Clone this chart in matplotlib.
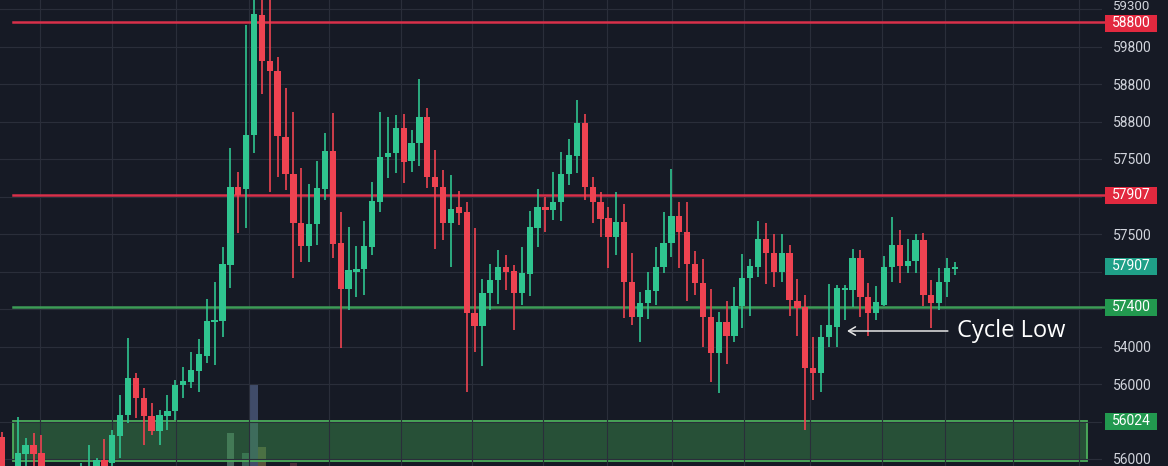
import numpy as np
import matplotlib.pyplot as plt
import matplotlib.transforms as mtransforms
from matplotlib.patches import Rectangle

plt.rcParams['font.family'] = ['Roboto', 'DejaVu Sans']

# OHLC candles, one per bar, oldest first
opens = [59126, 59044, 59050, 59092, 59110, 59094, 59044, 59020, 59000, 59020,
         59044, 59050, 59064, 59080, 59074, 59128, 59170, 59244, 59204, 59168,
         59138, 59168, 59178, 59230, 59236, 59258, 59288, 59356, 59358, 59470,
         59626, 59622, 59730, 59970, 59878, 59858, 59726, 59652, 59554, 59508,
         59552, 59622, 59698, 59514, 59422, 59456, 59462, 59506, 59596, 59686,
         59694, 59744, 59678, 59714, 59766, 59646, 59626, 59554, 59586, 59576,
         59374, 59348, 59414, 59440, 59466, 59458, 59414, 59452, 59544, 59586,
         59580, 59596, 59652, 59688, 59754, 59626, 59596, 59564, 59526, 59556,
         59436, 59366, 59394, 59418, 59466, 59514, 59568, 59536, 59472, 59434,
         59366, 59294, 59356, 59328, 59388, 59444, 59466, 59522, 59494, 59456,
         59494, 59398, 59386, 59264, 59254, 59326, 59346, 59420, 59420, 59484,
         59406, 59374, 59390, 59466, 59510, 59468, 59478, 59520, 59410, 59394,
         59436, 59462]
closes = [59050, 59060, 59094, 59110, 59092, 59050, 59020, 59000, 59020, 59044,
          59060, 59064, 59080, 59060, 59130, 59170, 59244, 59204, 59168, 59138,
          59170, 59178, 59230, 59238, 59260, 59292, 59358, 59360, 59472, 59626,
          59610, 59730, 59972, 59878, 59858, 59728, 59652, 59554, 59508, 59552,
          59624, 59698, 59512, 59422, 59460, 59462, 59508, 59598, 59686, 59694,
          59744, 59676, 59714, 59766, 59646, 59626, 59554, 59582, 59574, 59374,
          59348, 59414, 59440, 59466, 59456, 59414, 59454, 59546, 59586, 59580,
          59596, 59652, 59690, 59754, 59626, 59596, 59562, 59526, 59556, 59436,
          59366, 59394, 59420, 59466, 59514, 59568, 59536, 59472, 59434, 59366,
          59294, 59356, 59328, 59388, 59444, 59468, 59522, 59494, 59456, 59494,
          59400, 59384, 59264, 59254, 59326, 59350, 59424, 59424, 59484, 59406,
          59374, 59396, 59466, 59510, 59468, 59478, 59520, 59410, 59394, 59436,
          59464, 59466]
highs = [59136, 59064, 59166, 59124, 59134, 59130, 59056, 59030, 59040, 59056,
         59074, 59110, 59084, 59122, 59140, 59210, 59324, 59254, 59224, 59194,
         59180, 59210, 59240, 59266, 59296, 59322, 59402, 59436, 59506, 59704,
         59656, 59950, 60010, 60010, 60010, 59886, 59824, 59776, 59664, 59632,
         59678, 59734, 59774, 59576, 59546, 59508, 59558, 59636, 59776, 59766,
         59770, 59772, 59740, 59842, 59784, 59700, 59660, 59650, 59618, 59596,
         59544, 59442, 59472, 59500, 59490, 59470, 59506, 59578, 59622, 59606,
         59656, 59696, 59722, 59800, 59772, 59646, 59616, 59586, 59616, 59592,
         59494, 59416, 59456, 59506, 59576, 59662, 59596, 59596, 59498, 59482,
         59422, 59376, 59398, 59426, 59492, 59482, 59558, 59554, 59532, 59532,
         59510, 59442, 59410, 59326, 59350, 59432, 59430, 59430, 59502, 59500,
         59434, 59428, 59488, 59566, 59540, 59522, 59532, 59534, 59440, 59464,
         59484, 59476]
lows = [59040, 59030, 59040, 59060, 59068, 59040, 59010, 58990, 58990, 59010,
        59036, 59040, 59056, 59050, 59068, 59084, 59154, 59164, 59110, 59130,
        59110, 59140, 59160, 59204, 59224, 59216, 59274, 59270, 59326, 59424,
        59534, 59544, 59694, 59812, 59616, 59646, 59620, 59444, 59476, 59476,
        59510, 59600, 59484, 59304, 59380, 59406, 59410, 59490, 59576, 59644,
        59654, 59634, 59656, 59668, 59624, 59502, 59520, 59466, 59550, 59216,
        59296, 59268, 59380, 59392, 59420, 59340, 59390, 59408, 59506, 59536,
        59560, 59558, 59630, 59654, 59600, 59554, 59526, 59464, 59490, 59364,
        59350, 59316, 59362, 59390, 59454, 59486, 59464, 59398, 59410, 59306,
        59236, 59214, 59272, 59316, 59344, 59368, 59446, 59432, 59426, 59436,
        59368, 59328, 59140, 59200, 59216, 59306, 59306, 59360, 59386, 59366,
        59328, 59360, 59388, 59436, 59434, 59454, 59454, 59388, 59344, 59380,
        59406, 59450]

# faint volume bars near the bottom
vol_idx = [29, 31, 32, 33, 37]
vol_values = [330, 130, 820, 190, 30]
vol_colors = ['#6a9a86', '#4f8a78', '#5d6e98', '#857c4a', '#6e3c48']

# price axis (labels as printed on the chart)
grid_levels = 59982 - 75 * np.arange(13)
price_labels = ['', '59800', '58800', '58800', '57500', '', '57500', '',
                '', '54000', '56000', '', '56000']
top_label, top_label_y = '59300', 59986
time_grid = [4.8, 14.0, 22.1, 31.4, 41.5, 50.7, 59.7, 68.7, 76.8, 85.1,
             94.2, 102.6, 111.7, 119.7, 128.4, 136.7]

# horizontal levels and the support zone
level_prices = [59956, 59610, 59386]
level_colors = ['#d8304a', '#d8304a', '#3d9c57']
zone_low, zone_high = 59078, 59158

# price tags on the right
tag_prices = [59954, 59610, 59468, 59386, 59158]
tag_texts = ['58800', '57907', '57907', '57400', '56024']
tag_colors = ['#e2293f', '#e2293f', '#1fa088', '#22994f', '#22994f']

cycle_low_x, cycle_low_y, label_x = 107.3, 59338, 120.1

BG = '#161a25'
GREEN = '#2fc48f'
RED = '#ee4351'

fig = plt.figure(figsize=(11.68, 4.66), dpi=100, facecolor=BG)
ax = fig.add_axes([0, 0, 1102 / 1168, 1])
vax = ax.twinx()
ax.set_zorder(vax.get_zorder() + 1)
ax.patch.set_visible(False)
vax.set_facecolor(BG)

vax.bar(vol_idx, vol_values, width=0.95, color=vol_colors, alpha=0.6)
vax.set_ylim(0, 4660)
vax.set_yticks([])
for s in vax.spines.values():
    s.set_visible(False)

o = np.array(opens)
c = np.array(closes)
x = np.arange(len(o))
cols = np.where(c >= o, GREEN, RED)

ax.axhspan(zone_low, zone_high, xmin=13 / 1102, xmax=1087 / 1102,
           facecolor=(0.24, 0.58, 0.30, 0.45), edgecolor='#4caf5c', lw=1.3, zorder=1)

ax.vlines(x, lows, highs, colors=cols, lw=1.2, zorder=3)
ax.bar(x, np.maximum(np.abs(c - o), 4), bottom=np.minimum(o, c), width=0.8,
       color=cols, linewidth=0, zorder=4)

for p, col in zip(level_prices, level_colors):
    ax.axhline(p, xmin=13 / 1102, xmax=1105 / 1102, color=col, lw=1.8,
               clip_on=False, zorder=2)

ax.set_xlim(-0.254, 139.67)
ax.set_ylim(59068, 60000)
ax.set_yticks(grid_levels)
ax.set_yticklabels(price_labels)
ax.set_xticks(time_grid)
ax.yaxis.tick_right()
ax.tick_params(axis='x', length=0, labelbottom=False)
ax.tick_params(axis='y', length=0, pad=8, labelcolor='#d1d4dc', labelsize=10)
ax.grid(True, color='#2a2e3a', lw=0.8)
for s in ax.spines.values():
    s.set_visible(False)

trans = mtransforms.blended_transform_factory(fig.transFigure, ax.transData)
ax.text(1113 / 1168, top_label_y, top_label, transform=trans, ha='left', va='center',
        color='#d1d4dc', fontsize=9.5, clip_on=False, zorder=5)
for p, t, col in zip(tag_prices, tag_texts, tag_colors):
    ax.add_patch(Rectangle((1105 / 1168, p - 17), 52 / 1168, 34, transform=trans,
                           facecolor=col, edgecolor='none', clip_on=False, zorder=6))
    ax.text(1131 / 1168, p, t, transform=trans, ha='center', va='center',
            color='white', fontsize=10, clip_on=False, zorder=7)

ax.annotate('', xy=(cycle_low_x, cycle_low_y), xytext=(label_x, cycle_low_y),
            arrowprops=dict(arrowstyle='->,head_length=0.5,head_width=0.3',
                            color='#e6e6e6', lw=1.1, shrinkA=0, shrinkB=0), zorder=8)
ax.text(label_x + 1.1, cycle_low_y, 'Cycle Low', color='white', fontsize=17,
        va='center', ha='left', family=['Open Sans', 'DejaVu Sans'], zorder=8)

fig.savefig('out.png', dpi=100, facecolor=BG)
